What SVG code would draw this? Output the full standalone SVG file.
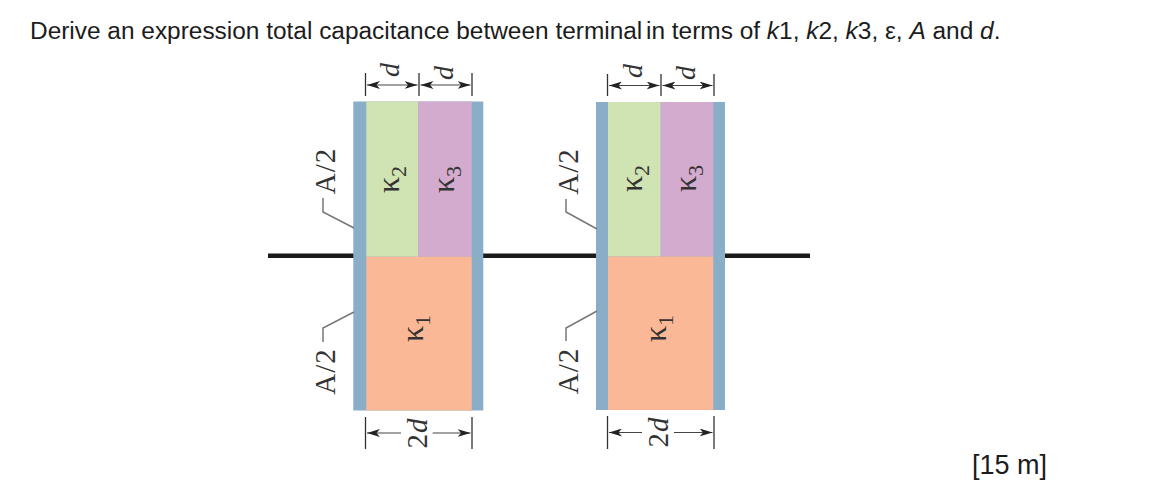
<svg xmlns="http://www.w3.org/2000/svg" width="1171" height="503" viewBox="0 0 1171 503">
<defs>
<marker id="ah" markerWidth="14" markerHeight="8" refX="13" refY="4" orient="auto-start-reverse" markerUnits="userSpaceOnUse"><path d="M0 0L13 4L0 8L3.500 4Z" fill="#222"/></marker>
</defs>
<style>
.q{font:24.430px "Liberation Sans",Arial,sans-serif;fill:#1c1c1c}
.i{font-style:italic}
.f{font-family:"Liberation Serif","Times New Roman",serif;fill:#333}
.m{font-size:29px;letter-spacing:1px}
.dd{font-size:28px;font-style:italic}
.k{font-size:32px}
.s{font-size:22px}
.w{stroke:#1a1a1a;stroke-width:4.500;fill:none}
.t{stroke:#333;stroke-width:1.300;fill:none}
.d{stroke:#444;stroke-width:1;fill:none;marker-start:url(#ah);marker-end:url(#ah)}
.l{stroke:#777;stroke-width:1.500;fill:none}
.p{fill:#8aadc8}.g{fill:#d0e3b2}.v{fill:#d3abce}.o{fill:#fbb896}
</style>
<rect width="1171" height="503" fill="#fff"/>
<text id="question" class="q" x="30" y="39">Derive an expression total capacitance between <tspan style="word-spacing:-3px">terminal in</tspan> terms of <tspan class="i">k</tspan>1, <tspan class="i">k</tspan>2, <tspan class="i">k</tspan>3, ε, <tspan class="i">A</tspan> and <tspan class="i">d</tspan>.</text>
<text id="marks" class="q" x="972" y="474" style="font-size:27px">[15 m]</text>
<g id="connectors">
<path class="w" d="M268 255.800H354M483 255.800H596M725 255.800H810"/>
</g>
<g id="capacitor-left">
<rect class="p" x="353.300" y="101.500" width="130" height="309"/>
<rect class="g" x="366.300" y="101.500" width="52" height="155.200"/>
<rect class="v" x="418.300" y="101.500" width="53.400" height="155.200"/>
<rect class="o" x="366.300" y="256.700" width="105.400" height="153.800"/>
<path class="t" d="M365.500 73V96M419 73V96M472 73V96M365.500 417V449M472 417V449"/>
<path class="d" d="M367 85H417.500"/>
<path class="d" d="M420.500 85H470.500"/>
<path class="d" style="marker-end:none" d="M367 433H401"/>
<path class="d" style="marker-start:none" d="M432.700 433H470.500"/>
<path class="l" d="M354 228L323 212V198"/>
<path class="l" d="M354 312L323 328V342"/>
<text class="f dd" transform="translate(399 70) rotate(-90)" text-anchor="middle">d</text>
<text class="f dd" transform="translate(453 73) rotate(-90)" text-anchor="middle">d</text>
<text class="f m" transform="translate(427 433) rotate(-90)" text-anchor="middle">2<tspan class="i">d</tspan></text>
<text class="f m" transform="translate(335 171) rotate(-90)" text-anchor="middle">A/2</text>
<text class="f m" transform="translate(335 371.500) rotate(-90)" text-anchor="middle">A/2</text>
<text class="f k" transform="translate(399 193) rotate(-90)">κ<tspan class="s" dy="7">2</tspan></text>
<text class="f k" transform="translate(454 193) rotate(-90)">κ<tspan class="s" dy="7">3</tspan></text>
<text class="f k" transform="translate(423 342) rotate(-90)">κ<tspan class="s" dy="7">1</tspan></text>
</g>
<g id="capacitor-right">
<rect class="p" x="596" y="102" width="129" height="308"/>
<rect class="g" x="608" y="102" width="52.700" height="154.500"/>
<rect class="v" x="660.700" y="102" width="52.600" height="154.500"/>
<rect class="o" x="608" y="256.500" width="105.300" height="153.500"/>
<path class="t" d="M607.500 74V96M661 74V96M714 74V96M607.500 416V449M714 416V449"/>
<path class="d" d="M609 85.500H659.500"/>
<path class="d" d="M662.500 85.500H712.500"/>
<path class="d" style="marker-end:none" d="M609 432.500H642"/>
<path class="d" style="marker-start:none" d="M674 432.500H712.500"/>
<path class="l" d="M597 229L566 212V199"/>
<path class="l" d="M597 311L566 328V341"/>
<text class="f dd" transform="translate(642 71) rotate(-90)" text-anchor="middle">d</text>
<text class="f dd" transform="translate(695 73) rotate(-90)" text-anchor="middle">d</text>
<text class="f m" transform="translate(668 432) rotate(-90)" text-anchor="middle">2<tspan class="i">d</tspan></text>
<text class="f m" transform="translate(578 171.500) rotate(-90)" text-anchor="middle">A/2</text>
<text class="f m" transform="translate(578 371) rotate(-90)" text-anchor="middle">A/2</text>
<text class="f k" transform="translate(642 192) rotate(-90)">κ<tspan class="s" dy="7">2</tspan></text>
<text class="f k" transform="translate(696 192) rotate(-90)">κ<tspan class="s" dy="7">3</tspan></text>
<text class="f k" transform="translate(666 342) rotate(-90)">κ<tspan class="s" dy="7">1</tspan></text>
</g>
</svg>
